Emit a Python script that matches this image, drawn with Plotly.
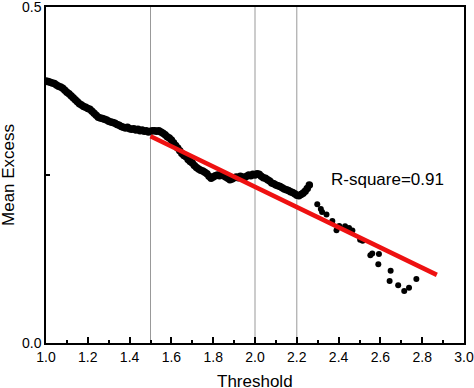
import numpy as np
import plotly.graph_objects as go

# Dense mean-excess values, thresholds 1.00 .. 2.26 step 0.01
dense_x = np.round(np.arange(1.00, 2.2601, 0.01), 2).tolist()
dense_y = [
    0.390, 0.389, 0.388, 0.387, 0.386, 0.384, 0.382, 0.381, 0.379, 0.376,
    0.373, 0.371, 0.368, 0.365, 0.362, 0.359, 0.356, 0.354, 0.352, 0.351,
    0.349, 0.348, 0.345, 0.342, 0.339, 0.336, 0.335, 0.334, 0.333, 0.332,
    0.330, 0.329, 0.328, 0.327, 0.325, 0.324, 0.322, 0.321, 0.320, 0.321,
    0.319, 0.318, 0.319, 0.317, 0.318, 0.316, 0.317, 0.315, 0.316, 0.314,
    0.315, 0.316, 0.316, 0.315, 0.316, 0.314, 0.312, 0.310, 0.307, 0.305,
    0.302, 0.298, 0.294, 0.290, 0.286, 0.282, 0.279, 0.277, 0.273, 0.270,
    0.268, 0.264, 0.261, 0.259, 0.257, 0.256, 0.254, 0.252, 0.248, 0.245,
    0.247, 0.249, 0.250, 0.249, 0.251, 0.249, 0.247, 0.245, 0.243, 0.244,
    0.246, 0.247, 0.246, 0.248, 0.247, 0.246, 0.248, 0.250, 0.249, 0.251,
    0.250, 0.252, 0.251, 0.248, 0.246, 0.245, 0.243, 0.241, 0.238, 0.237,
    0.235, 0.234, 0.233, 0.231, 0.229, 0.228, 0.227, 0.225, 0.224, 0.222,
    0.220, 0.219, 0.221, 0.223, 0.226, 0.230, 0.235,
]

# Sparse tail points
sparse_x = [2.298, 2.315, 2.321, 2.342, 2.370, 2.390, 2.403, 2.431, 2.450, 2.466,
            2.503, 2.515, 2.552, 2.561, 2.593, 2.590, 2.649, 2.644, 2.685, 2.714,
            2.737, 2.772]
sparse_y = [0.2064, 0.1994, 0.1949, 0.1912, 0.1815, 0.1677, 0.1740, 0.1737, 0.1710, 0.1673,
            0.1536, 0.1521, 0.1305, 0.1330, 0.1323, 0.1171, 0.1074, 0.0921, 0.0859, 0.0772,
            0.0821, 0.0952]

# Linear fit line
fit_x = [1.5, 2.87]
fit_y = [0.3076, 0.1014]

vlines = [1.5, 2.0, 2.2]
r2_label = "R-square=0.91"

FONT = "Liberation Sans, Arial, sans-serif"

fig = go.Figure()
fig.add_trace(go.Scatter(x=dense_x, y=dense_y, mode="markers",
                         marker=dict(color="black", size=7.5, line=dict(width=0)),
                         showlegend=False, hoverinfo="skip"))
fig.add_trace(go.Scatter(x=sparse_x, y=sparse_y, mode="markers",
                         marker=dict(color="black", size=6, line=dict(width=0)),
                         showlegend=False, hoverinfo="skip"))
fig.add_trace(go.Scatter(x=fit_x, y=fit_y, mode="lines",
                         line=dict(color="#ee1111", width=4.5),
                         showlegend=False, hoverinfo="skip"))

for v in vlines:
    fig.add_shape(type="line", xref="x", yref="paper", x0=v, x1=v, y0=0, y1=1,
                  line=dict(color="#999999", width=1), layer="below")

fig.add_annotation(x=2.632, y=0.2436, xref="x", yref="y", text=r2_label,
                   showarrow=False, font=dict(family=FONT, size=17, color="black"))
fig.add_annotation(x=-0.091, y=0.5, xref="paper", yref="paper", text="Mean Excess",
                   textangle=-90, showarrow=False, xanchor="center", yanchor="middle",
                   font=dict(family=FONT, size=17, color="black"))
fig.add_annotation(x=0.5, y=-0.115, xref="paper", yref="paper", text="Threshold",
                   showarrow=False, xanchor="center", yanchor="middle",
                   font=dict(family=FONT, size=17, color="black"))

fig.update_layout(
    width=474, height=388,
    margin=dict(l=46, r=10, t=7, b=45, autoexpand=False),
    paper_bgcolor="white", plot_bgcolor="white",
    font=dict(family=FONT, size=14, color="black"),
)
fig.update_xaxes(range=[1.0, 3.0], tickmode="linear", tick0=1.0, dtick=0.2,
                 tickformat=".1f", ticks="inside", ticklen=6, tickwidth=1.5,
                 tickcolor="black", automargin=False, ticklabeloverflow="allow",
                 minor=dict(dtick=0.1, tick0=1.0, ticks="inside", ticklen=3.5,
                            tickwidth=1.5, tickcolor="black", showgrid=False),
                 showline=True, linecolor="black", linewidth=1.5, mirror=True,
                 showgrid=False, zeroline=False,
                 tickfont=dict(family=FONT, size=14, color="black"))
fig.update_yaxes(range=[0.0, 0.5], tickmode="linear", tick0=0.0, dtick=0.5,
                 tickformat=".1f", ticks="inside", ticklen=6, tickwidth=1.5,
                 tickcolor="black", automargin=False, ticklabeloverflow="allow",
                 minor=dict(dtick=0.25, tick0=0.0, ticks="inside", ticklen=4,
                            tickwidth=1.5, tickcolor="black", showgrid=False),
                 showline=True, linecolor="black", linewidth=1.5, mirror=True,
                 showgrid=False, zeroline=False,
                 tickfont=dict(family=FONT, size=14, color="black"))

fig.write_html("out.html", config={"displayModeBar": False},
               post_script="document.body.style.margin='0';document.body.style.overflow='hidden';")
